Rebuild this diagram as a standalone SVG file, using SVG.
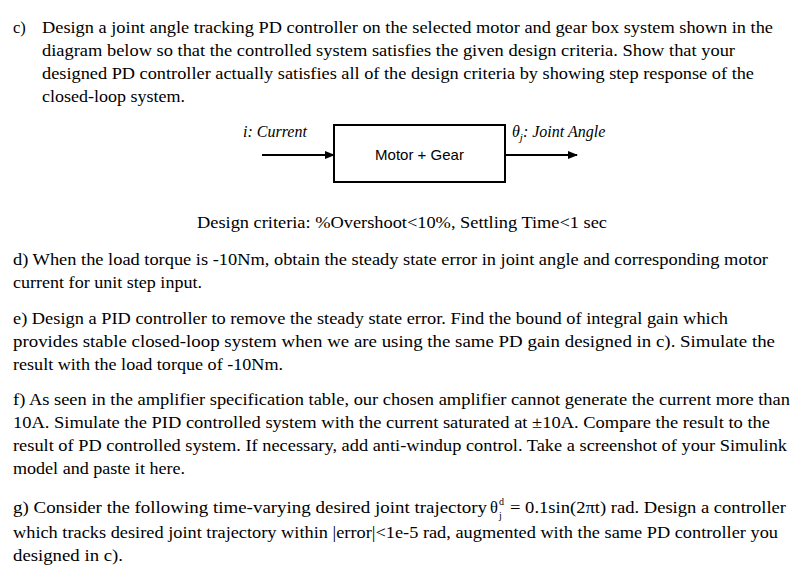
<svg xmlns="http://www.w3.org/2000/svg" width="806" height="577" viewBox="0 0 806 577">
<style>
.t{font-family:"Liberation Serif",serif;font-size:16.5px;fill:#000}
.m{font-family:"Liberation Serif",serif;font-style:italic;font-size:16px;fill:#000}
.s{font-family:"Liberation Sans",sans-serif;font-size:15px;fill:#000}
.k{font-family:"Liberation Serif",serif;font-size:10px;fill:#000}
</style>
<defs><marker id="a" markerWidth="10" markerHeight="8" refX="9" refY="4" orient="auto" markerUnits="userSpaceOnUse"><path d="M0,0L10,4L0,8z" fill="#000"/></marker></defs>
<rect width="806" height="577" fill="#fff"/>
<g id="text">
<text class="t" x="13" y="33">c)</text>
<text class="t" x="42" y="33" textLength="731" lengthAdjust="spacingAndGlyphs">Design a joint angle tracking PD controller on the selected motor and gear box system shown in the</text>
<text class="t" x="42" y="56" textLength="693" lengthAdjust="spacingAndGlyphs">diagram below so that the controlled system satisfies the given design criteria. Show that your</text>
<text class="t" x="42" y="79" textLength="712" lengthAdjust="spacingAndGlyphs">designed PD controller actually satisfies all of the design criteria by showing step response of the</text>
<text class="t" x="42" y="102" textLength="143" lengthAdjust="spacingAndGlyphs">closed-loop system.</text>
<text class="t" x="197" y="228" textLength="410" lengthAdjust="spacingAndGlyphs">Design criteria: %Overshoot&lt;10%, Settling Time&lt;1 sec</text>
<text class="t" x="13" y="265" textLength="755" lengthAdjust="spacingAndGlyphs">d) When the load torque is -10Nm, obtain the steady state error in joint angle and corresponding motor</text>
<text class="t" x="13" y="288" textLength="189" lengthAdjust="spacingAndGlyphs">current for unit step input.</text>
<text class="t" x="13" y="324" textLength="715" lengthAdjust="spacingAndGlyphs">e) Design a PID controller to remove the steady state error. Find the bound of integral gain which</text>
<text class="t" x="13" y="347" textLength="762" lengthAdjust="spacingAndGlyphs">provides stable closed-loop system when we are using the same PD gain designed in c). Simulate the</text>
<text class="t" x="13" y="370" textLength="270" lengthAdjust="spacingAndGlyphs">result with the load torque of -10Nm.</text>
<text class="t" x="13" y="405" textLength="777" lengthAdjust="spacingAndGlyphs">f) As seen in the amplifier specification table, our chosen amplifier cannot generate the current more than</text>
<text class="t" x="13" y="428" textLength="757" lengthAdjust="spacingAndGlyphs">10A. Simulate the PID controlled system with the current saturated at ±10A. Compare the result to the</text>
<text class="t" x="13" y="451" textLength="774" lengthAdjust="spacingAndGlyphs">result of PD controlled system. If necessary, add anti-windup control. Take a screenshot of your Simulink</text>
<text class="t" x="13" y="474" textLength="172" lengthAdjust="spacingAndGlyphs">model and paste it here.</text>
<text class="t" x="13" y="513" textLength="474" lengthAdjust="spacingAndGlyphs">g) Consider the following time-varying desired joint trajectory</text>
<text class="t" x="490" y="513">θ</text>
<text class="k" x="499" y="505">d</text>
<text class="k" x="499" y="519">j</text>
<text class="t" x="510" y="513" textLength="276" lengthAdjust="spacingAndGlyphs">= 0.1sin(2πt) rad. Design a controller</text>
<text class="t" x="13" y="538" textLength="765" lengthAdjust="spacingAndGlyphs">which tracks desired joint trajectory within |error|&lt;1e-5 rad, augmented with the same PD controller you</text>
<text class="t" x="13" y="561" textLength="110" lengthAdjust="spacingAndGlyphs">designed in c).</text>
</g>
<g id="connectors" stroke="#000" stroke-width="2">
<line x1="262" y1="155" x2="334" y2="155" marker-end="url(#a)"/>
<line x1="505" y1="155" x2="577" y2="155" marker-end="url(#a)"/>
</g>
<g id="block">
<rect x="334" y="125" width="171" height="57" fill="#fff" stroke="#000" stroke-width="2"/>
<text class="s" x="419.5" y="160" text-anchor="middle">Motor + Gear</text>
</g>
<g id="labels">
<text class="m" x="243" y="137">i: Current</text>
<text class="m" x="512" y="137">θ<tspan font-size="11" dy="4">j</tspan><tspan dy="-4">: Joint Angle</tspan></text>
</g>
</svg>
